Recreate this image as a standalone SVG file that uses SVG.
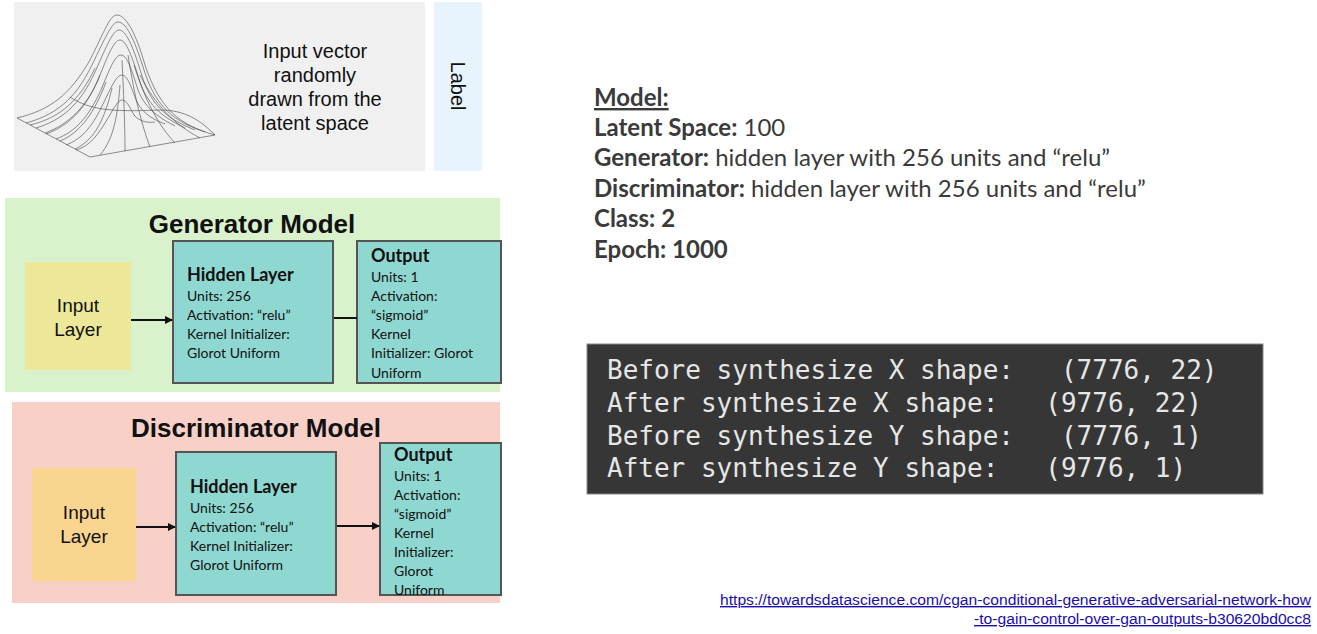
<svg xmlns="http://www.w3.org/2000/svg" width="1317" height="634" viewBox="0 0 1317 634">
<style>
.h{font-family:"Liberation Sans",Arial,sans-serif;fill:#111}
.b{font-family:Lato,"Noto Sans",sans-serif;fill:#111}
.box{fill:#8fd8d2;stroke:#555;stroke-width:2}
.r{font-family:Lato,"Noto Sans",sans-serif;fill:#3a3a3a;font-size:24px}
.m{font-family:"DejaVu Sans Mono",monospace;fill:#e6e6e6;font-size:26px}
.mesh{fill:none;stroke:#444;stroke-width:0.6}
</style>
<defs><marker id="ah" markerWidth="8" markerHeight="8" refX="7" refY="4" orient="auto" markerUnits="userSpaceOnUse"><path d="M0,0 L8,4 L0,8 z" fill="#111"/></marker></defs>
<rect width="1317" height="634" fill="#fff"/>
<g id="latent">
<rect x="14" y="2" width="411" height="169" fill="#f0f0f0"/>
<g class="mesh">
<path d="M17,118 L90,157 L215,135"/>
<path d="M17,118 C50,110 70,95 90,60 C105,30 110,15 117,15 C125,15 135,30 145,65 C160,110 180,125 215,135"/>
<path d="M26,123 C55,115 75,100 92,65 C105,38 112,22 118,22 C126,22 134,38 144,70 C156,108 175,122 205,132"/>
<path d="M36,128 C62,120 80,105 95,72 C107,45 113,30 119,30 C126,30 133,46 142,76 C152,108 170,120 195,130"/>
<path d="M46,134 C68,126 85,110 98,80 C108,55 114,40 120,40 C126,40 132,56 140,82 C149,108 165,118 185,128"/>
<path d="M56,139 C75,132 88,118 101,90 C110,68 115,55 121,55 C127,55 131,68 138,90 C146,110 160,118 175,126"/>
<path d="M66,145 C82,139 93,126 104,102 C112,85 117,75 122,75 C127,75 131,86 136,100 C143,115 155,120 165,124"/>
<path d="M76,150 C90,146 98,135 108,118 C114,108 118,100 122,100 C127,100 130,108 134,115 C140,122 148,123 155,122"/>
<path d="M30,125 C60,118 80,100 95,68 M45,133 C70,124 88,105 100,75 M60,141 C80,133 95,112 106,82 M75,149 C95,140 105,118 112,88 M100,155 C115,138 118,110 120,85 M125,151 C125,130 124,100 122,60 M150,147 C142,125 135,100 128,55 M175,143 C158,125 145,100 134,65 M200,138 C175,125 155,105 140,75"/>
<path d="M70,97 C90,110 110,112 160,110 C185,110 200,120 215,135"/>
</g>
<text class="h" font-size="20" text-anchor="middle"><tspan x="315" y="58">Input vector</tspan><tspan x="315" y="82">randomly</tspan><tspan x="315" y="106">drawn from the</tspan><tspan x="315" y="130">latent space</tspan></text>
</g>
<g id="label">
<rect x="434" y="2" width="48" height="169" fill="#e8f4fd"/>
<text class="h" font-size="20" transform="translate(451,86) rotate(90)" text-anchor="middle">Label</text>
</g>
<g id="generator">
<rect x="5" y="198" width="495" height="194" fill="#d9f2cb"/>
<text class="h" font-size="26" font-weight="bold" x="252" y="233" text-anchor="middle">Generator Model</text>
</g>
<g id="g-input"><rect x="25" y="262" width="106" height="108" fill="#ede79a"/>
<text class="h" font-size="19" text-anchor="middle"><tspan x="78" y="312">Input</tspan><tspan x="78" y="336">Layer</tspan></text></g>
<g id="g-hidden"><rect class="box" x="173" y="241" width="160" height="142"/>
<text class="b" font-size="18" font-weight="bold" x="187" y="281">Hidden Layer</text>
<text class="b" font-size="14"><tspan x="187" y="301">Units: 256</tspan><tspan x="187" y="320">Activation: “relu”</tspan><tspan x="187" y="339">Kernel Initializer:</tspan><tspan x="187" y="358">Glorot Uniform</tspan></text></g>
<g id="g-output"><rect class="box" x="357" y="241" width="144" height="142"/>
<text class="b" font-size="18" font-weight="bold" x="371" y="262">Output</text>
<text class="b" font-size="14"><tspan x="371" y="282">Units: 1</tspan><tspan x="371" y="301">Activation:</tspan><tspan x="371" y="320">“sigmoid”</tspan><tspan x="371" y="339">Kernel</tspan><tspan x="371" y="358">Initializer: Glorot</tspan><tspan x="371" y="378">Uniform</tspan></text></g>
<g id="discriminator">
<rect x="12" y="402" width="488" height="201" fill="#f8d0c8"/>
<text class="h" font-size="26" font-weight="bold" x="256" y="437" text-anchor="middle">Discriminator Model</text>
</g>
<g id="d-input"><rect x="32" y="468" width="104" height="113" fill="#fad590"/>
<text class="h" font-size="19" text-anchor="middle"><tspan x="84" y="519">Input</tspan><tspan x="84" y="543">Layer</tspan></text></g>
<g id="d-hidden"><rect class="box" x="176" y="452" width="160" height="143"/>
<text class="b" font-size="18" font-weight="bold" x="190" y="493">Hidden Layer</text>
<text class="b" font-size="14"><tspan x="190" y="513">Units: 256</tspan><tspan x="190" y="532">Activation: “relu”</tspan><tspan x="190" y="551">Kernel Initializer:</tspan><tspan x="190" y="570">Glorot Uniform</tspan></text></g>
<g id="d-output"><rect class="box" x="380" y="443" width="121" height="152"/>
<text class="b" font-size="18" font-weight="bold" x="394" y="461">Output</text>
<text class="b" font-size="14"><tspan x="394" y="481">Units: 1</tspan><tspan x="394" y="500">Activation:</tspan><tspan x="394" y="519">“sigmoid”</tspan><tspan x="394" y="538">Kernel</tspan><tspan x="394" y="557">Initializer:</tspan><tspan x="394" y="576">Glorot</tspan><tspan x="394" y="595">Uniform</tspan></text></g>
<g id="connectors" stroke="#111" stroke-width="2" fill="none">
<line x1="131" y1="320" x2="172" y2="320" marker-end="url(#ah)"/>
<line x1="334" y1="318" x2="357" y2="318"/>
<line x1="136" y1="527" x2="175" y2="527" marker-end="url(#ah)"/>
<line x1="337" y1="526" x2="379" y2="526" marker-end="url(#ah)"/>
</g>
<g id="model-text">
<text class="r" font-weight="bold" x="594" y="106" text-decoration="underline">Model:</text>
<text class="r" x="594" y="136"><tspan font-weight="bold">Latent Space:</tspan> 100</text>
<text class="r" x="594" y="166"><tspan font-weight="bold">Generator:</tspan> hidden layer with 256 units and “relu”</text>
<text class="r" x="594" y="197"><tspan font-weight="bold">Discriminator:</tspan> hidden layer with 256 units and “relu”</text>
<text class="r" x="594" y="227" font-weight="bold">Class: 2</text>
<text class="r" x="594" y="258" font-weight="bold">Epoch: 1000</text>
</g>
<g id="console">
<rect x="587" y="344" width="676" height="150" fill="#363636" stroke="#888" stroke-width="1"/>
<text class="m" xml:space="preserve"><tspan x="607" y="379">Before synthesize X shape:   (7776, 22)</tspan><tspan x="607" y="412">After synthesize X shape:   (9776, 22)</tspan><tspan x="607" y="445">Before synthesize Y shape:   (7776, 1)</tspan><tspan x="607" y="477">After synthesize Y shape:   (9776, 1)</tspan></text>
</g>
<g id="link" font-family="'Liberation Sans Narrow','Liberation Sans',sans-serif" font-size="14" fill="#1a0dab" text-decoration="underline" text-anchor="end">
<text x="1311" y="605" textLength="591" lengthAdjust="spacingAndGlyphs">https://towardsdatascience.com/cgan-conditional-generative-adversarial-network-how</text>
<text x="1311" y="624" textLength="337" lengthAdjust="spacingAndGlyphs">-to-gain-control-over-gan-outputs-b30620bd0cc8</text>
</g>
</svg>
